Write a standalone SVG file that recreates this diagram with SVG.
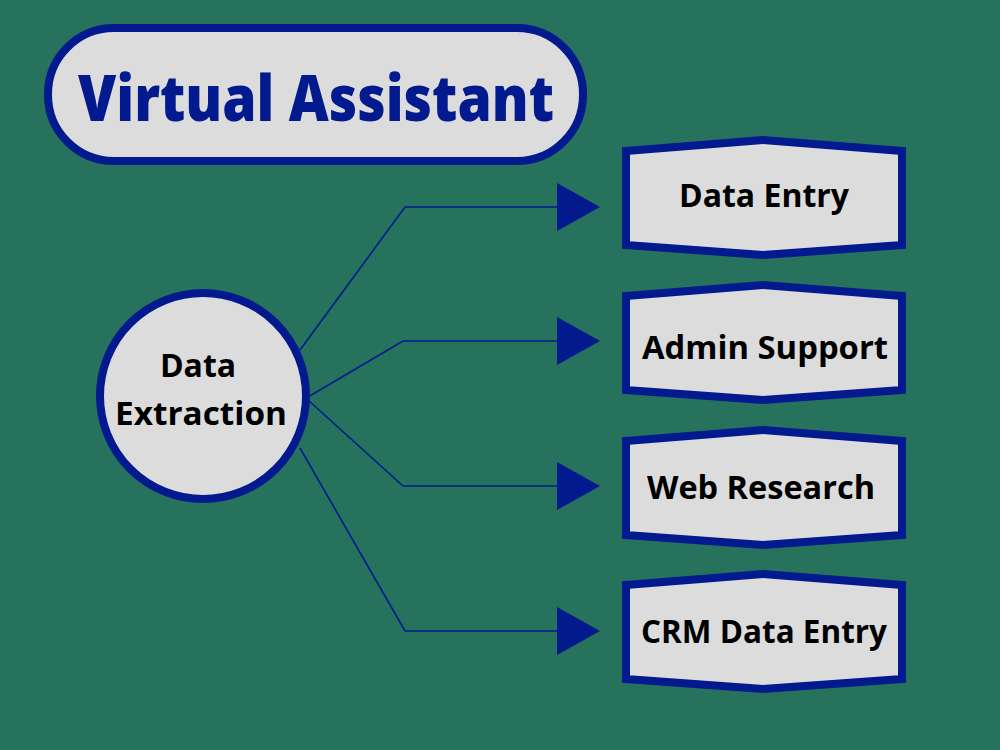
<svg xmlns="http://www.w3.org/2000/svg" width="1000" height="750" viewBox="0 0 1000 750">
<style>
.sh{fill:#dcdcdc;stroke:#031a8e;stroke-width:8}
.t{font-family:"Open Sans","Liberation Sans",sans-serif;font-weight:bold;font-size:32px;fill:#000;text-anchor:middle}
.c{fill:none;stroke:#031a8e;stroke-width:1.6}
.a{fill:#031a8e}
</style>
<rect width="1000" height="750" fill="#27725c"/>
<g id="title"><rect class="sh" x="48" y="28" width="535" height="133" rx="66"/>
<text x="316" y="121" textLength="476" lengthAdjust="spacingAndGlyphs" style="font-family:'Open Sans','Liberation Sans',sans-serif;font-weight:800;font-size:64px;fill:#031a8e;text-anchor:middle">Virtual Assistant</text></g>
<g id="connectors">
<polyline class="c" points="300,350 405,207 560,207"/>
<polyline class="c" points="308,397 403,341 560,341"/>
<polyline class="c" points="308,400 403,486 560,486"/>
<polyline class="c" points="300,448 405,631 560,631"/>
<polygon class="a" points="557,183 600,207 557,231"/>
<polygon class="a" points="557,317 600,341 557,365"/>
<polygon class="a" points="557,462 600,486 557,510"/>
<polygon class="a" points="557,607 600,631 557,655"/>
</g>
<g id="center"><circle class="sh" cx="203" cy="396" r="103"/>
<text class="t" x="198" y="377">Data</text><text class="t" x="201" y="425" textLength="172" lengthAdjust="spacingAndGlyphs">Extraction</text></g>
<g id="n1"><polygon class="sh" points="626,151 763,140 902,151 902,245 763,255 626,245"/><text class="t" x="764" y="207">Data Entry</text></g>
<g id="n2"><polygon class="sh" points="626,296 763,285 902,296 902,390 763,400 626,390"/><text class="t" x="765" y="359" textLength="246" lengthAdjust="spacingAndGlyphs">Admin Support</text></g>
<g id="n3"><polygon class="sh" points="626,441 763,430 902,441 902,535 763,545 626,535"/><text class="t" x="761" y="499" textLength="228" lengthAdjust="spacingAndGlyphs">Web Research</text></g>
<g id="n4"><polygon class="sh" points="626,585 763,574 902,585 902,679 763,689 626,679"/><text class="t" x="764" y="643" textLength="246" lengthAdjust="spacingAndGlyphs">CRM Data Entry</text></g>
</svg>
